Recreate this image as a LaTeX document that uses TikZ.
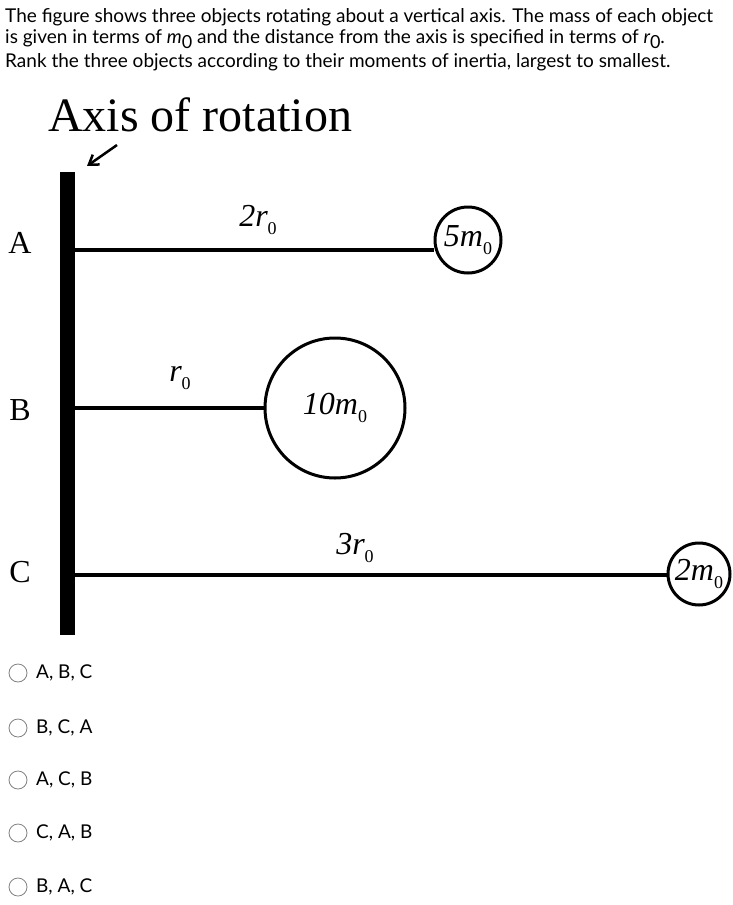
\documentclass[tikz,border=0pt]{standalone}
\usepackage{fontspec}
\usetikzlibrary{arrows.meta}
\setmainfont{Liberation Serif}
\newfontfamily\lato{Lato}
\newcommand{\sym}[2]{{\itshape #1}\raisebox{-0.25em}{\fontsize{18}{18}\selectfont\upshape #2}}
\begin{document}
\begin{tikzpicture}[x=1pt,y=-1pt,
  hdr/.style={anchor=west,inner sep=0,font=\lato\fontsize{19}{20}\selectfont},
  lab/.style={inner sep=0,font=\fontsize{32}{34}\selectfont},
  mass/.style={circle,draw,line width=3pt,inner sep=0},
  rod/.style={line width=3.2pt},
  opt/.style={circle,draw=gray,line width=0.8pt,minimum size=18pt,inner sep=0},
  opttext/.style={anchor=west,inner sep=0,font=\lato\fontsize{19}{20}\selectfont}]
\useasboundingbox (0,0) rectangle (732,905);
\node[hdr] (h1) at (5,17) {The figure shows three objects rotating about a vertical axis. The mass of each object};
\node[hdr] (h2) at (5,39) {is given in terms of \sym{m}{0} and the distance from the axis is specified in terms of \sym{r}{0}.};
\node[hdr] (h3) at (5,62) {Rank the three objects according to their moments of inertia, largest to smallest.};
\node[inner sep=0,font=\fontsize{48}{50}\selectfont] (axl) at (200,115) {Axis of rotation};
\coordinate (a1) at (117,145);
\coordinate (a2) at (87,166);
\draw[line width=2.5pt,-{Straight Barb[length=9pt,width=12pt]}] (a1) -- (a2);
\fill (60,172) rectangle (75,635);
\coordinate (ba) at (75,250);
\coordinate (bb) at (75,408);
\coordinate (bc) at (75,575);
% A
\node[lab] (A) at (20,243) {A};
\node[mass,minimum size=66pt] (mA) at (468,240) {};
\node[lab] at (mA) {\sym{5m}{0}};
\draw[rod] (ba) -- (mA.west|-ba);
\node[lab] (rA) at (258,220) {\sym{2r}{0}};
% B
\node[lab] (B) at (20,410) {B};
\node[mass,minimum size=140pt] (mB) at (335,408) {};
\node[lab] at (mB) {\sym{10m}{0}};
\draw[rod] (bb) -- (mB.west);
\node[lab] (rB) at (180,378) {\sym{r}{0}};
% C
\node[lab] (C) at (20,572) {C};
\node[mass,minimum size=62pt] (mC) at (699,574) {};
\node[lab] at (mC) {\sym{2m}{0}};
\draw[rod] (bc) -- (mC.west|-bc);
\node[lab] (rC) at (355,548) {\sym{3r}{0}};
% options
\foreach \y/\t [count=\i] in {673/{A, B, C},728/{B, C, A},780/{A, C, B},833/{C, A, B},887/{B, A, C}}{
  \node[opt] (o\i) at (18,\y) {};
  \node[opttext] (t\i) at (36,\y) {\t};
}
\end{tikzpicture}
\end{document}
